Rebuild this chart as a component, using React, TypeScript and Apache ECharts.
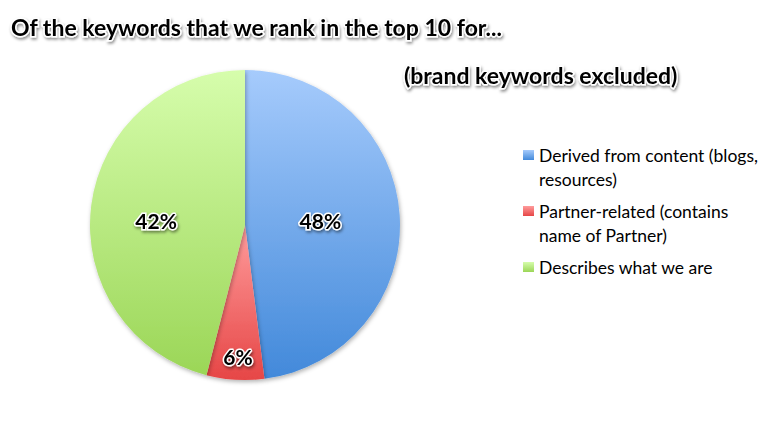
import React, { useEffect, useRef } from 'react';
import * as echarts from 'echarts';

// Slice data (arc sizes as drawn, labels as printed on the chart)
const categories = [
  'Derived from content (blogs,\nresources)',
  'Partner-related (contains\nname of Partner)',
  'Describes what we are',
];
const sliceValues = [48, 6, 46];
const sliceLabels = ['48%', '6%', '42%'];
const sliceColors = [
  ['#a6cbfc', '#4289da'],
  ['#ff9c9c', '#e64646'],
  ['#d6fdac', '#9bd657'],
];
// nudges for the inside labels, px
const labelNudge = [
  [-5, 1],
  [-2, 51],
  [-9, 6],
];

const FONT = 'Lato, "Open Sans", sans-serif';

const glow = {
  color: '#000',
  fontWeight: 'bold' as const,
  fontFamily: FONT,
  textBorderColor: '#fff',
  textBorderWidth: 3,
  textShadowColor: 'rgba(0,0,0,0.45)',
  textShadowBlur: 3,
  textShadowOffsetX: 1,
  textShadowOffsetY: 2,
};

export default function App() {
  const chartRef = useRef<HTMLDivElement>(null);

  useEffect(() => {
    document.body.style.margin = '0';
    if (!chartRef.current) return;
    const chart = echarts.init(chartRef.current, null, { renderer: 'svg' });

    const data = categories.map((name, i) => ({
      name,
      value: sliceValues[i],
      itemStyle: {
        color: new echarts.graphic.LinearGradient(0, 0, 0, 1, [
          { offset: 0, color: sliceColors[i][0] },
          { offset: 1, color: sliceColors[i][1] },
        ]),
      },
    }));

    const option: echarts.EChartsOption = {
      animation: false,
      backgroundColor: '#fff',
      title: [
        {
          text: 'Of the keywords that we rank in the top 10 for...',
          left: 11,
          top: 15,
          padding: 0,
          textStyle: { ...glow, fontSize: 23 },
        },
        {
          text: '(brand keywords excluded)',
          left: 404,
          top: 63,
          padding: 0,
          textStyle: { ...glow, fontSize: 23 },
        },
      ],
      legend: {
        orient: 'vertical',
        left: 523,
        top: 119,
        padding: 0,
        itemWidth: 11,
        itemHeight: 10,
        itemGap: -16,
        icon: 'rect',
        selectedMode: false,
        // pad every entry to three lines so the swatch sits on the first text line
        formatter: (name: string) =>
          name.includes('\n') ? '\n' + name : '\n' + name + '\n ',
        textStyle: {
          fontSize: 17.5,
          fontFamily: FONT,
          color: '#000',
          lineHeight: 24,
        },
        data: categories,
      },
      series: [
        {
          type: 'pie',
          center: [245, 225],
          radius: 155,
          startAngle: 90,
          clockwise: true,
          data,
          itemStyle: {
            shadowColor: 'rgba(0,0,0,0.3)',
            shadowBlur: 4,
            shadowOffsetX: 1,
            shadowOffsetY: 2,
          },
          label: {
            show: true,
            position: 'inside',
            formatter: (p: any) => sliceLabels[p.dataIndex],
            ...glow,
            fontSize: 21,
          },
          labelLayout: (p: any) => ({
            dx: labelNudge[p.dataIndex][0],
            dy: labelNudge[p.dataIndex][1],
          }),
          labelLine: { show: false },
          emphasis: { disabled: true },
        },
      ],
    };

    chart.setOption(option);
    return () => chart.dispose();
  }, []);

  return <div ref={chartRef} style={{ width: 780, height: 446 }} />;
}
